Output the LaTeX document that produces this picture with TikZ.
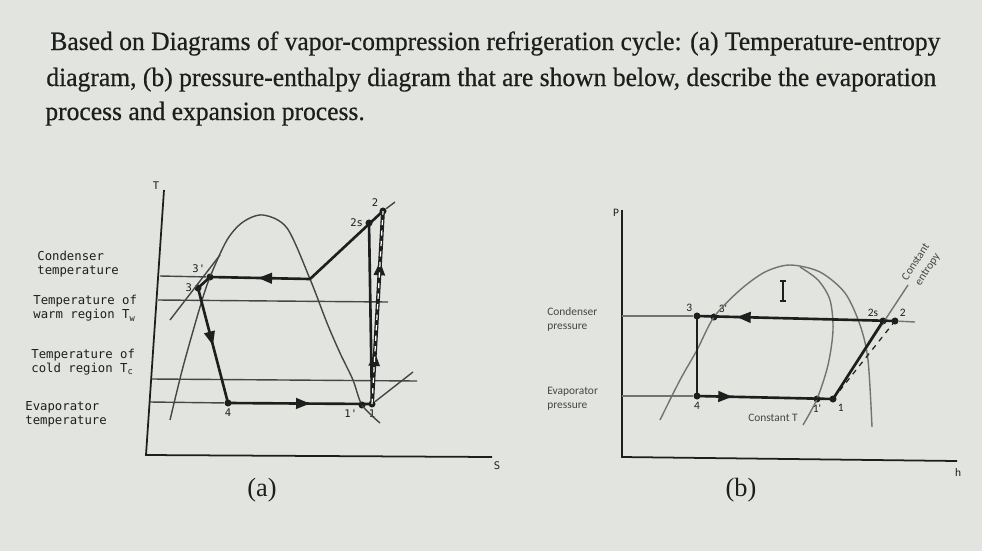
\documentclass[tikz,border=0pt]{standalone}
\usepackage{fontspec}
\setmainfont{Liberation Serif}
\newfontfamily\titlefont[FakeBold=0.6]{Liberation Serif}
\newfontfamily\plotfont{DejaVu Sans Mono}
\newfontfamily\labfont{Carlito}
\usetikzlibrary{arrows.meta,decorations.markings}
\definecolor{screen}{RGB}{226,228,224}
\definecolor{ink}{RGB}{30,30,30}
\definecolor{thinline}{RGB}{70,70,70}
\definecolor{greyline}{RGB}{115,115,115}
\newcommand\lowsub[1]{\raisebox{-1.5pt}{\fontsize{5}{5}\selectfont #1}}

\begin{document}
\begin{tikzpicture}[x=0.02cm, y=-0.02cm,
        title/.style={anchor=base west, inner sep=0pt, text=ink,
            font=\titlefont\fontsize{15}{18}\selectfont},
        caption/.style={inner sep=0pt, text=ink, font=\fontsize{15}{18}\selectfont},
        tlab/.style={anchor=west, inner sep=0pt, align=left, text=ink,
            font=\plotfont\fontsize{7}{8}\selectfont},
        plab/.style={anchor=west, inner sep=0pt, align=left, text=thinline,
            font=\labfont\fontsize{6.5}{8}\selectfont},
        tnum/.style={inner sep=1pt, text=ink, font=\plotfont\fontsize{6}{6}\selectfont},
        pnum/.style={inner sep=1pt, text=ink, font=\labfont\fontsize{6.5}{6.5}\selectfont},
        pt/.style={circle, fill=ink, inner sep=0pt, minimum size=4pt},
        axis/.style={draw=ink, line width=1pt},
        thin/.style={draw=thinline, line width=0.8pt},
        grey/.style={draw=greyline, line width=0.8pt},
        bold/.style={draw=ink, line width=1.5pt},
        marr/.style={postaction={decorate, decoration={markings,
            mark=at position #1 with {\arrow{Triangle[length=8pt,width=6pt]}}}}},
        marr/.default=0.5
        ]
    \fill[screen] (0,0) rectangle (982,551);
    \useasboundingbox (0,0) rectangle (982,551);

    % question text
    \node[title] (line1) at (50,50) {\scalebox{0.97}[1]{Based on Diagrams of vapor-compression refrigeration cycle: (a) Temperature-entropy}};
    \node[title] (line2) at (46,86) {\scalebox{0.97}[1]{diagram, (b) pressure-enthalpy diagram that are shown below, describe the evaporation}};
    \node[title] (line3) at (45,120) {\scalebox{0.97}[1]{process and expansion process.}};

    % (a) temperature-entropy diagram
    \coordinate (aO) at (146,455);
    \coordinate (aT) at (164,190);
    \coordinate (aS) at (492,457);
    \draw[axis] (aT) -- (aO) -- (aS);
    \node[tnum] (Tlab) at (156,186) {T};
    \node[tnum] (Slab) at (497,466) {S};

    \node[tlab] (condT) at (37,264) {Condenser\\temperature};
    \node[tlab] (warmT) at (33,308) {Temperature of\\warm region T\lowsub{w}};
    \node[tlab] (coldT) at (31,362) {Temperature of\\cold region T\lowsub{c}};
    \node[tlab] (evapT) at (25,414) {Evaporator\\temperature};

    \node[pt, label={[tnum]left:3}] (a3) at (198,288) {};
    \node[pt, label={[tnum]above left:3'}] (a3p) at (210,277) {};
    \coordinate (a3g) at (310,279);
    \node[pt, label={[tnum]left:2s}] (a2s) at (369,223) {};
    \node[pt, label={[tnum]above left:2}] (a2) at (383,211) {};
    \coordinate (a2e) at (395,202);
    \node[pt, label={[tnum]below:1}] (a1) at (372,404) {};
    \node[pt, label={[tnum]below left:1'}] (a1p) at (362,405) {};
    \node[pt, label={[tnum]below:4}] (a4) at (228,403) {};

    \draw[thin] (160,276) -- (a3p);
    \draw[thin] (158,300) -- (388,302);
    \draw[thin] (152,379) -- (417,381);
    \draw[thin] (150,402) -- (a4);
    \draw[thin] (170,320) -- (220,255);
    \draw[thin] (a1) -- (413,372);
    \draw[thin] (a2) -- (a2e);
    \draw[thin] plot[smooth] coordinates {(170,420) (183,367) (200,307) (210,277) (227,240)
        (243,222) (263,215) (287,228) (310,279) (327,323) (340,353) (353,380) (362,405) (380,423)};

    \draw[bold, marr=0.52] (a3g) -- (a3p.center);
    \draw[bold] (a3p.center) -- (a3.center);
    \draw[bold, marr=0.5] (a3.center) -- (a4.center);
    \draw[bold, marr=0.57] (a4.center) -- (a1.center);
    \draw[bold] (a1.center) -- (a2s.center);
    \draw[bold] (a3g) -- (a2.center);
    \draw[draw=ink, line width=2.2pt, marr=0.27, marr=0.74] (a1.center) -- (a2.center);
    \draw[white, line width=0.7pt, dash pattern=on 3pt off 3pt] (a1.center) -- (a2.center);
    \node[caption] (capA) at (262,490) {(a)};

    % (b) pressure-enthalpy diagram
    \coordinate (bO) at (622,457);
    \coordinate (bP) at (622,210);
    \coordinate (bH) at (957,461);
    \draw[axis] (bP) -- (bO) -- (bH);
    \node[pnum] (Plab) at (616,213) {P};
    \node[pnum] (hlab) at (958,473) {h};

    \node[plab] (condP) at (547,319) {Condenser\\pressure};
    \node[plab] (evapP) at (547,399) {Evaporator\\pressure};

    \node[pt, label={[pnum]above left:3}] (b3) at (697,316) {};
    \node[pt, label={[pnum]above right:3'}] (b3p) at (714,317) {};
    \node[pt, label={[pnum]above left:2s}] (b2s) at (883,321) {};
    \node[pt, label={[pnum]above right:2}] (b2) at (895,321) {};
    \coordinate (b2e) at (915,322);
    \node[pt, label={[pnum]below:4}] (b4) at (697,396) {};
    \node[pt, label={[pnum]below:1'}] (b1p) at (817,399) {};
    \node[pt, label={[pnum]below right:1}] (b1) at (833,399) {};
    \coordinate (bS) at (908,285);

    \draw[grey] (622,316) -- (b3);
    \draw[grey] (622,396) -- (b4);
    \draw[grey] (b2) -- (b2e);
    \draw[grey] (b1) -- (bS);
    \draw[grey] plot[smooth] coordinates {(660,420) (680,380) (697,350) (714,317) (740,290)
        (765,272) (790,265) (820,272) (845,293) (860,325) (868,360) (872,427)};
    \draw[grey] plot[smooth] coordinates {(803,425) (817,399) (828,365) (833,330) (830,300)
        (818,280) (800,267)};

    \draw[bold, marr=0.8] (b2.center) -- (b3.center);
    \draw[bold, marr=0.26] (b4.center) -- (b1.center);
    \draw[draw=ink, line width=1pt] (b3.center) -- (b4.center);
    \draw[bold] (b1.center) -- (b2s.center);
    \draw[draw=ink, line width=0.7pt, dashed] (b1.center) -- (b2.center);

    \node[plab, anchor=center] (constT) at (773,418) {Constant T};
    \node[plab, anchor=center, align=center, rotate=57] (constS) at (922,266) {Constant\\entropy};
    \node[caption] (capB) at (741,490) {(b)};

    % text cursor
    \draw[ink, line width=0.8pt] (780,281) -- (786,281) (783,281) -- (783,301) (780,301) -- (786,301);
\end{tikzpicture}
\end{document}
